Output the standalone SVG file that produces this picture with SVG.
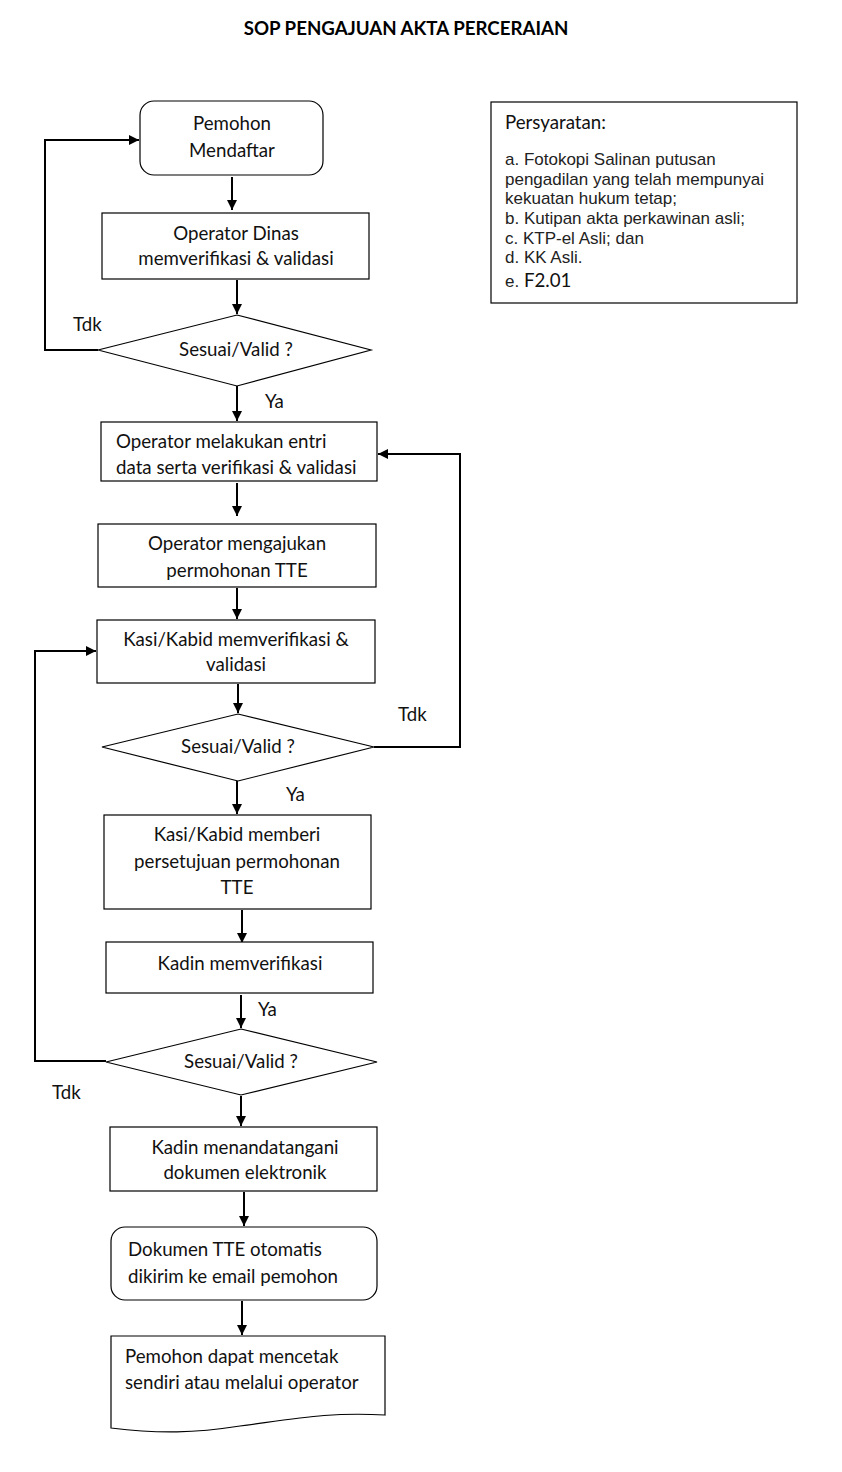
<svg xmlns="http://www.w3.org/2000/svg" width="842" height="1472" viewBox="0 0 842 1472">
<defs>
<marker id="arr" viewBox="0 0 10 10" refX="10" refY="5" markerWidth="5" markerHeight="5" orient="auto" markerUnits="strokeWidth">
<path d="M0,0 L10,5 L0,10 Z" fill="#000"/>
</marker>
<style>
.box{fill:#fff;stroke:#000;stroke-width:1.2}
.t{font-family:Lato,"Open Sans","Liberation Sans",sans-serif;font-size:18.7px;fill:#111}
.c{text-anchor:middle}
.a{font-family:"Liberation Sans",Arial,sans-serif;font-size:17px;fill:#222}
.ln{fill:none;stroke:#000;stroke-width:2}
</style>
</defs>
<rect width="842" height="1472" fill="#fff"/>
<text x="406" y="35" text-anchor="middle" style="font-family:Lato,'Open Sans','Liberation Sans',sans-serif;font-size:18.7px;font-weight:bold;fill:#000">SOP PENGAJUAN AKTA PERCERAIAN</text>

<g id="connectors">
<line class="ln" x1="232" y1="177" x2="232" y2="210" marker-end="url(#arr)"/>
<line class="ln" x1="237" y1="280" x2="237" y2="314" marker-end="url(#arr)"/>
<polyline class="ln" points="98,350 45,350 45,140 139,140" marker-end="url(#arr)"/>
<line class="ln" x1="237" y1="386" x2="237" y2="421" marker-end="url(#arr)"/>
<line class="ln" x1="237" y1="483" x2="237" y2="516" marker-end="url(#arr)"/>
<line class="ln" x1="237" y1="588" x2="237" y2="619" marker-end="url(#arr)"/>
<line class="ln" x1="238" y1="684" x2="238" y2="713" marker-end="url(#arr)"/>
<polyline class="ln" points="374,747 460,747 460,454 378,454" marker-end="url(#arr)"/>
<line class="ln" x1="237" y1="781" x2="237" y2="814" marker-end="url(#arr)"/>
<line class="ln" x1="242" y1="910" x2="242" y2="943" marker-end="url(#arr)"/>
<line class="ln" x1="241" y1="995" x2="241" y2="1028" marker-end="url(#arr)"/>
<polyline class="ln" points="106,1061 35,1061 35,651 96,651" marker-end="url(#arr)"/>
<line class="ln" x1="241" y1="1096" x2="241" y2="1126" marker-end="url(#arr)"/>
<line class="ln" x1="244" y1="1192" x2="244" y2="1226" marker-end="url(#arr)"/>
<line class="ln" x1="242" y1="1301" x2="242" y2="1335" marker-end="url(#arr)"/>
<text class="t" x="73" y="331">Tdk</text>
<text class="t" x="265" y="408">Ya</text>
<text class="t" x="398" y="721">Tdk</text>
<text class="t" x="286" y="801">Ya</text>
<text class="t" x="258" y="1016">Ya</text>
<text class="t" x="52" y="1099">Tdk</text>
</g>

<g id="n1">
<rect class="box" x="140" y="101" width="183" height="74" rx="14"/>
<text class="t c" x="232" y="130">Pemohon</text>
<text class="t c" x="232" y="157">Mendaftar</text>
</g>
<g id="n2">
<rect class="box" x="102" y="213" width="267" height="66"/>
<text class="t c" x="236" y="240">Operator Dinas</text>
<text class="t c" x="236" y="265">memverifikasi &amp; validasi</text>
</g>
<g id="d1">
<polygon class="box" points="237,315 371,350 237,386 98,350"/>
<text class="t c" x="236" y="356">Sesuai/Valid ?</text>
</g>
<g id="n3">
<rect class="box" x="101" y="422" width="276" height="59"/>
<text class="t" x="116" y="448">Operator melakukan entri</text>
<text class="t" x="116" y="474">data serta verifikasi &amp; validasi</text>
</g>
<g id="n4">
<rect class="box" x="98" y="524" width="278" height="63"/>
<text class="t c" x="237" y="550">Operator mengajukan</text>
<text class="t c" x="237" y="577">permohonan TTE</text>
</g>
<g id="n5">
<rect class="box" x="97" y="620" width="278" height="63"/>
<text class="t c" x="236" y="646">Kasi/Kabid memverifikasi &amp;</text>
<text class="t c" x="236" y="671">validasi</text>
</g>
<g id="d2">
<polygon class="box" points="238,714 374,747 238,781 102,747"/>
<text class="t c" x="238" y="753">Sesuai/Valid ?</text>
</g>
<g id="n6">
<rect class="box" x="104" y="815" width="267" height="94"/>
<text class="t c" x="237" y="841">Kasi/Kabid memberi</text>
<text class="t c" x="237" y="868">persetujuan permohonan</text>
<text class="t c" x="237" y="894">TTE</text>
</g>
<g id="n7">
<rect class="box" x="106" y="942" width="267" height="51"/>
<text class="t c" x="240" y="970">Kadin memverifikasi</text>
</g>
<g id="d3">
<polygon class="box" points="241,1029 377,1062 241,1095 106,1062"/>
<text class="t c" x="241" y="1068">Sesuai/Valid ?</text>
</g>
<g id="n8">
<rect class="box" x="110" y="1127" width="267" height="64"/>
<text class="t c" x="245" y="1154">Kadin menandatangani</text>
<text class="t c" x="245" y="1179">dokumen elektronik</text>
</g>
<g id="n9">
<rect class="box" x="111" y="1227" width="266" height="73" rx="14"/>
<text class="t" x="128" y="1256">Dokumen TTE otomatis</text>
<text class="t" x="128" y="1283">dikirim ke email pemohon</text>
</g>
<g id="n10">
<path class="box" d="M111,1336 L385,1336 L385,1415 C330,1412 300,1418 240,1426 C195,1433 160,1434 111,1428 Z"/>
<text class="t" x="125" y="1363">Pemohon dapat mencetak</text>
<text class="t" x="125" y="1389">sendiri atau melalui operator</text>
</g>
<g id="req">
<rect class="box" x="491" y="102" width="306" height="201"/>
<text class="t" x="505" y="129">Persyaratan:</text>
<text class="a" x="505" y="165">a. Fotokopi Salinan putusan</text>
<text class="a" x="505" y="185">pengadilan yang telah mempunyai</text>
<text class="a" x="505" y="204">kekuatan hukum tetap;</text>
<text class="a" x="505" y="224">b. Kutipan akta perkawinan asli;</text>
<text class="a" x="505" y="244">c. KTP-el Asli; dan</text>
<text class="a" x="505" y="263">d. KK Asli.</text>
<text class="a" x="505" y="287">e. <tspan class="t">F2.01</tspan></text>
</g>
</svg>
